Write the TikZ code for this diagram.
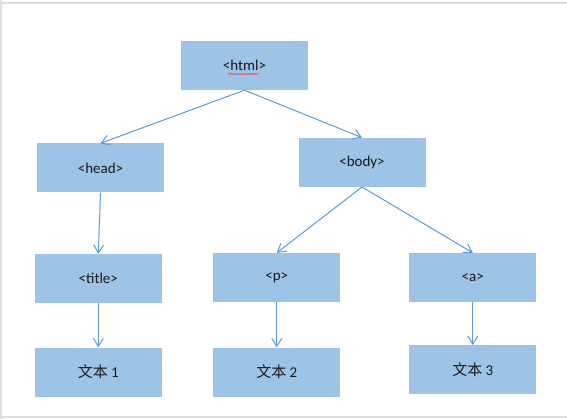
\documentclass[tikz,border=0pt]{standalone}
\usepackage{fontspec}
\setmainfont{Carlito}
\newfontfamily\cjk{Noto Sans CJK SC}
\usetikzlibrary{arrows.meta,decorations.pathmorphing}
\definecolor{boxblue}{HTML}{9DC3E6}
\definecolor{lineblue}{HTML}{5B9BD5}
\definecolor{framegray}{HTML}{DDDDDD}
\begin{document}
\begin{tikzpicture}[x=1pt,y=-1pt,
		tag/.style={fill=boxblue,minimum width=127pt,minimum height=49pt,inner sep=0pt,text=black!90,font=\fontsize{15}{17}\selectfont},
		link/.style={draw=lineblue,line width=1pt,-{Straight Barb[length=8pt,width=10pt]}}]
			\useasboundingbox (0,0) rectangle (567,419);
			\fill[framegray] (0,0) rectangle (2,419);
			\fill[framegray] (0,2) rectangle (567,4);
			\fill[framegray] (0,416) rectangle (567,418);

			\node (html) at (244.5,65.5)[tag]{<html>};
			\node (head) at (100.5,168)[tag]{<head>};
			\node (body) at (362,162.3)[tag]{<body>};

			\node (title) at (98.3,278.5)[tag]{<title>};
			\node (p) at (276.8,277.5)[tag]{<p>};
			\node (a) at (472.8,277.5)[tag]{<a>};

			\node (text1) at (98.3,372)[tag]{{\cjk 文本} 1};
			\node (text2) at (276.8,372)[tag]{{\cjk 文本} 2};
			\node (text3) at (472.8,369.8)[tag]{{\cjk 文本} 3};

			\draw[red!80,decorate,decoration={zigzag,segment length=2.4pt,amplitude=0.7pt}]
				([xshift=-16pt,yshift=-8.5pt]html.center) -- ([xshift=14.5pt,yshift=-8.5pt]html.center);

			\draw[link] (html.south) -- (head.north);
			\draw[link] (html.south) -- (body.north);
			\draw[link] (head.south) -- (title.north);
			\draw[link] (body.south) -- (p.north);
			\draw[link] (body.south) -- (a.north);
			\draw[link] (title.south) -- (text1.north);
			\draw[link] (p.south) -- (text2.north);
			\draw[link] (a.south) -- (text3.north);
		\end{tikzpicture}
\end{document}
